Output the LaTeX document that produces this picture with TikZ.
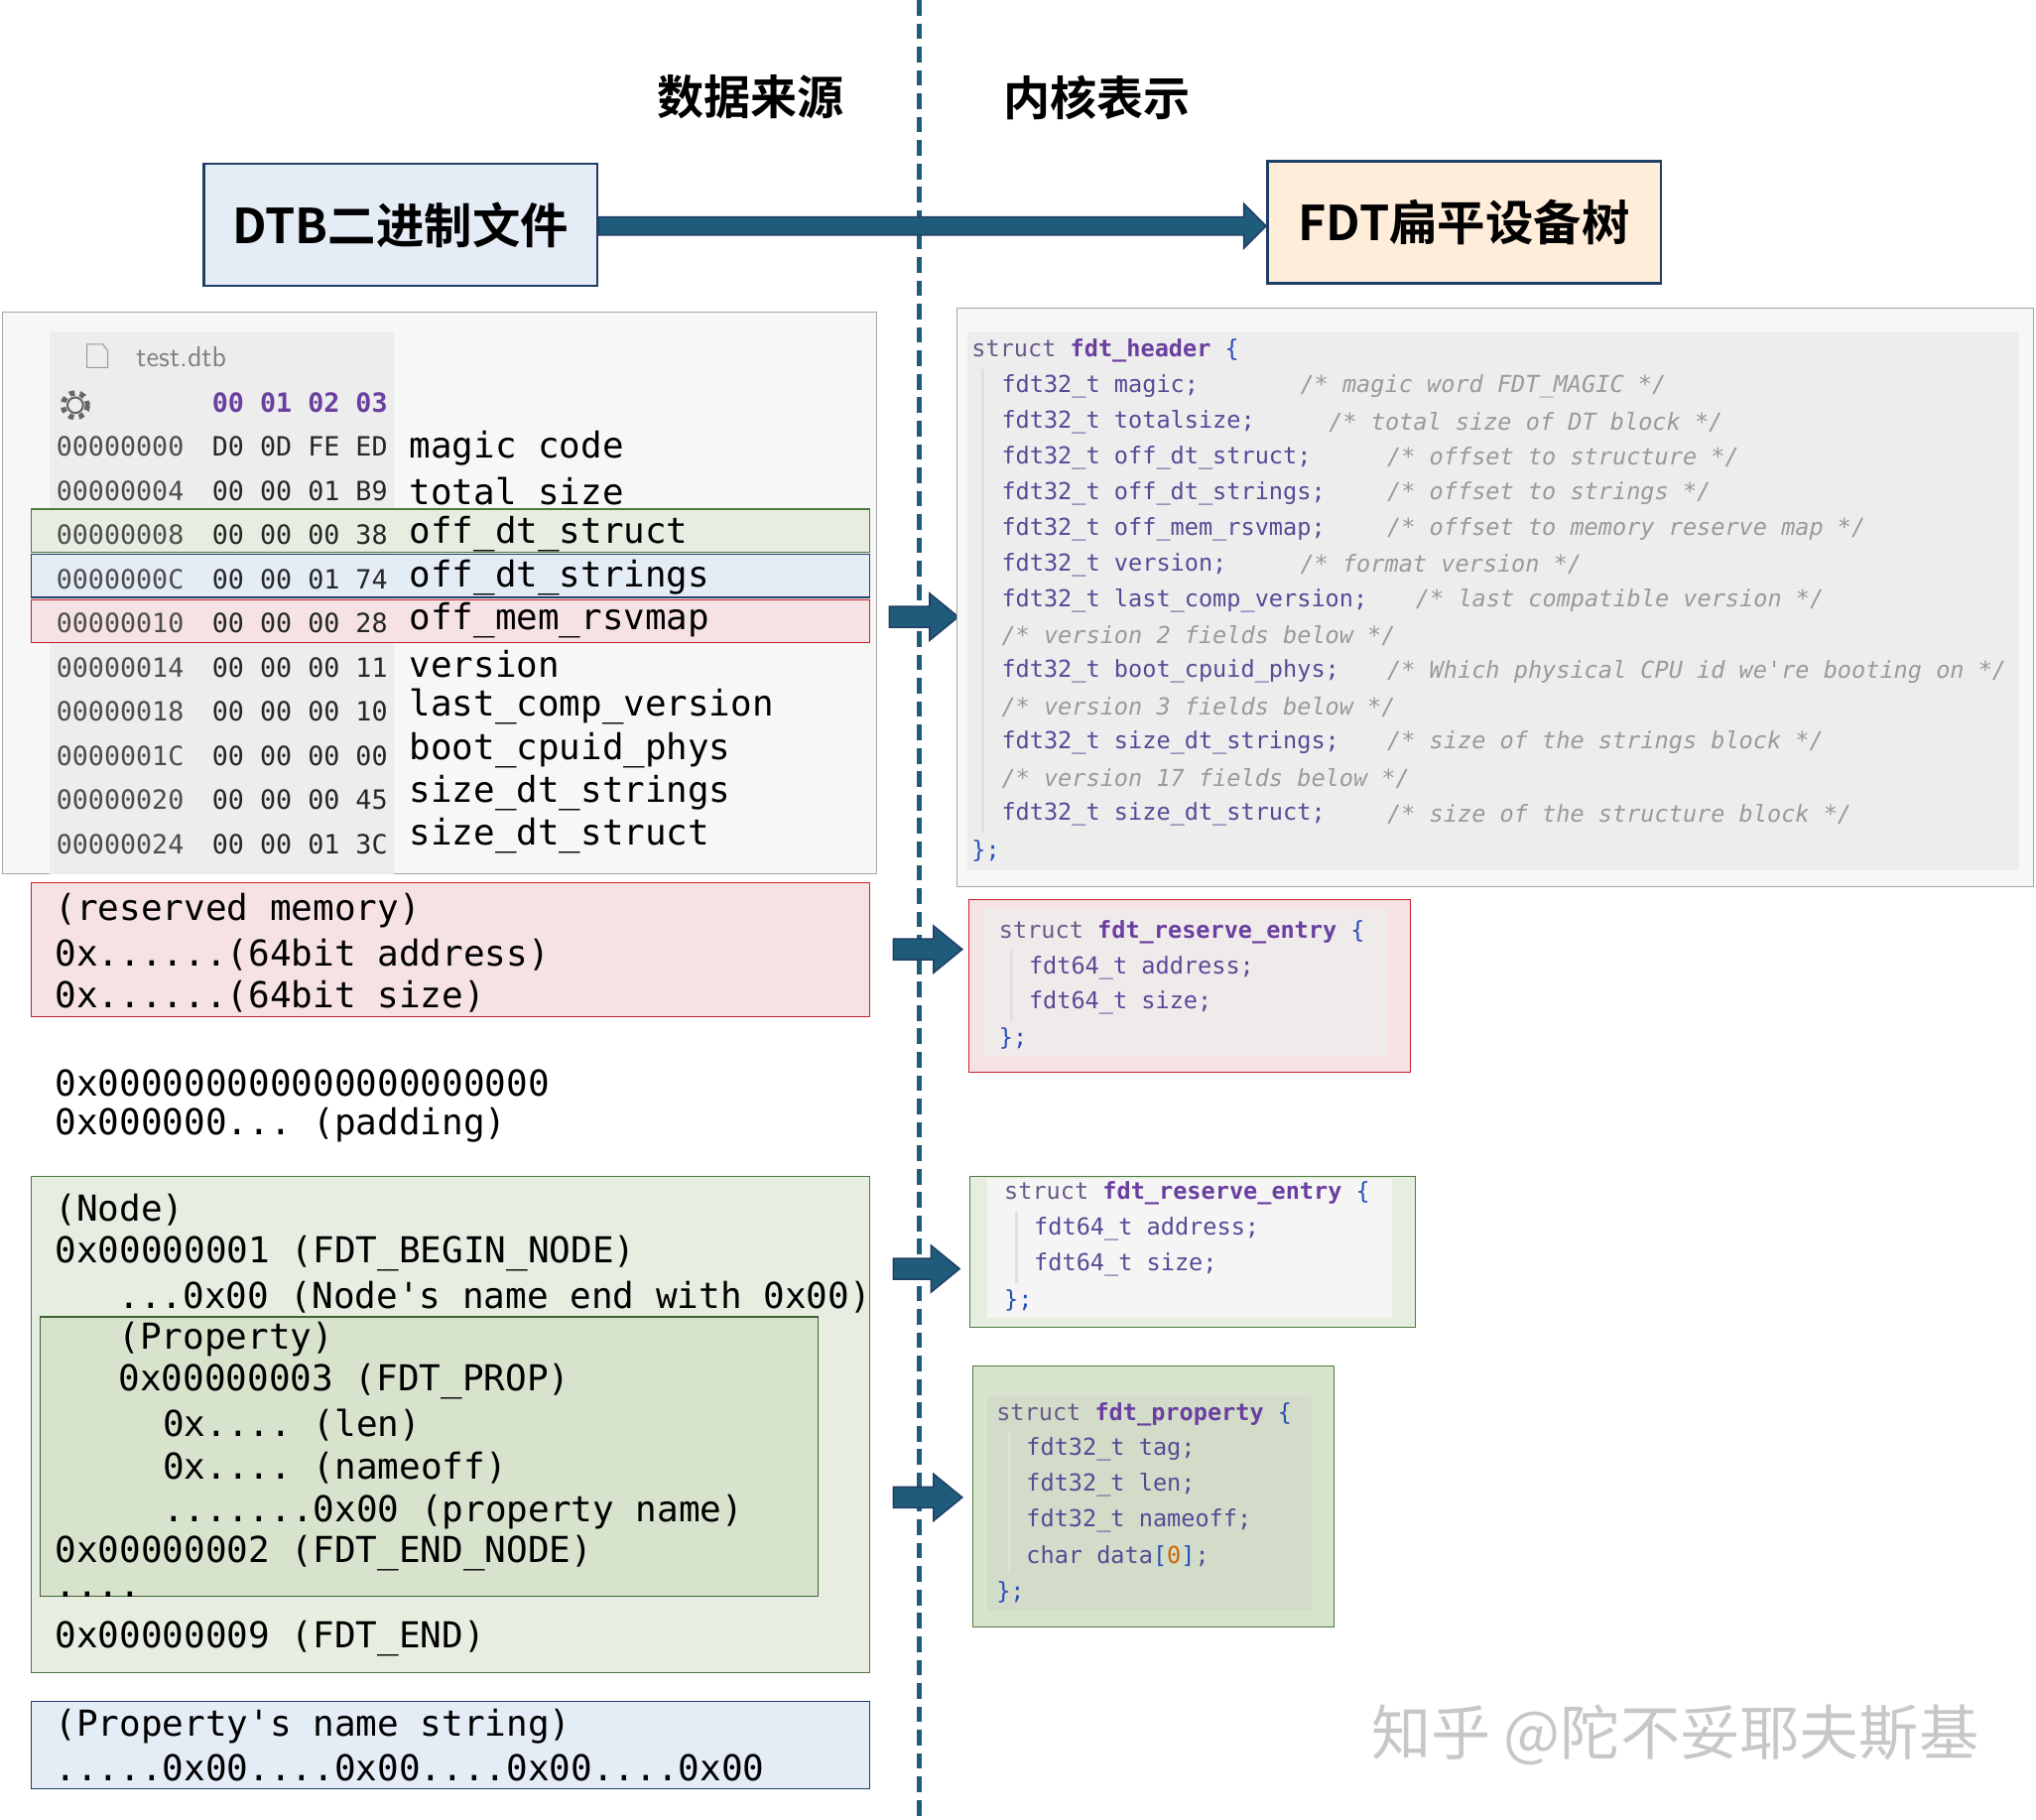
\documentclass[tikz,border=0pt]{standalone}
\usepackage{fontspec}
\setmonofont{DejaVu Sans Mono}
\newfontfamily\cjk{Noto Sans CJK SC}[BoldFont={Noto Sans CJK SC Bold}]
\usetikzlibrary{arrows.meta}
\definecolor{teal}{HTML}{1F5B7A}
\definecolor{navy}{HTML}{1F3F66}
\definecolor{redb}{HTML}{C8202A}
\definecolor{redf}{HTML}{F6E2E4}
\definecolor{greenb}{HTML}{4E7A3E}
\definecolor{greenf}{HTML}{E7EEE1}
\definecolor{greend}{HTML}{D8E3CE}
\definecolor{bluef}{HTML}{E4ECF6}
\definecolor{kw}{HTML}{6A5A8A}
\definecolor{nm}{HTML}{6A3FA0}
\definecolor{mem}{HTML}{574A96}
\definecolor{cm}{HTML}{9A9A9A}
\definecolor{br}{HTML}{2A4FB8}
\newcommand\kwa[1]{\textcolor{kw}{#1}}
\tikzset{x=0.5pt,y=-0.5pt,
 big/.style={font=\ttfamily\fontsize{13.75}{15}\selectfont,anchor=west,inner sep=0},
 lab/.style={font=\ttfamily\fontsize{13.7}{15}\selectfont,anchor=west,inner sep=0},
 hex/.style={font=\ttfamily\fontsize{10.2}{12}\selectfont,text=black!70,anchor=west,inner sep=0},
 code/.style={font=\ttfamily\fontsize{9}{10}\selectfont,text=mem,anchor=west,inner sep=0},
 bar/.style={draw=black!12,line width=1pt},
 blk/.style={fill=teal,draw=navy,line width=0.6pt},
 title/.style={font=\cjk\bfseries\fontsize{18}{20}\selectfont}}
\newcommand\blockarrow[3]{\filldraw[blk] (#1,#3-8)--(#2-22,#3-8)--(#2-22,#3-18)--(#2,#3)--(#2-22,#3+18)--(#2-22,#3+8)--(#1,#3+8)--cycle;}
\newcommand\cm[1]{\textcolor{cm}{\itshape #1}}
\begin{document}
\begin{tikzpicture}
\useasboundingbox (0,0) rectangle (1568,1401);
\draw[teal,line width=1.6pt,dash pattern=on 6pt off 3pt] (708,0)--(708,1398);
\node[title] (t1) at (578,75) {数据来源};
\node[title] (t2) at (845,75) {内核表示};
\node[draw=navy,line width=1pt,fill=bluef,minimum width=151.5pt,minimum height=47pt,anchor=north west,font=\cjk\bfseries\fontsize{18.5}{20}\selectfont] (dtb) at (156,125) {DTB二进制文件};
\node[draw=navy,line width=1pt,fill=orange!15!white,minimum width=151.5pt,minimum height=47pt,anchor=north west,font=\cjk\bfseries\fontsize{18.5}{20}\selectfont] (fdt) at (975,123) {FDT扁平设备树};
\draw[navy,line width=0.6pt,fill=teal] (dtb.east|-0,167)--(958,167)--(958,157)--(fdt.west|-0,174)--(958,191)--(958,181)--(dtb.east|-0,181)--cycle;
% hex panel
\draw[black!35,fill=black!3] (2,240) rectangle (675,673);
\fill[black!7] (38,255) rectangle (303,673);
\draw[black!40] (67,265)--(79,265)--(83,270)--(83,283)--(67,283)--cycle;
\node[anchor=west,font=\sffamily\fontsize{11}{12}\selectfont,text=black!50] (fn) at (98,275) {test.dtb};
\draw[black!60,line width=0.8pt] (58,312) circle (6);
\draw[black!60,line width=2pt,dash pattern=on 2pt off 2pt] (58,312) circle (9.5);
\node[hex,text=nm,font=\ttfamily\bfseries\fontsize{10.2}{12}\selectfont] at (163,310) {00 01 02 03};
\draw[greenb,fill=greenf] (24,392) rectangle (670,425);
\draw[navy,fill=bluef] (24,427) rectangle (670,460);
\draw[redb,fill=redf] (24,462) rectangle (670,495);
\foreach \o/\b/\l [count=\i from 0] in {00000000/D0 0D FE ED/magic code,00000004/00 00 01 B9/total size,00000008/00 00 00 38/off\_dt\_struct,0000000C/00 00 01 74/off\_dt\_strings,00000010/00 00 00 28/off\_mem\_rsvmap,00000014/00 00 00 11/version,00000018/00 00 00 10/last\_comp\_version,0000001C/00 00 00 00/boot\_cpuid\_phys,00000020/00 00 00 45/size\_dt\_strings,00000024/00 00 01 3C/size\_dt\_struct}{
 \node[hex] at (43,344+34*\i) {\o};
 \node[hex,text=black!85] at (163,344+34*\i) {\b};
 \node[lab] at (315,345+33.2*\i) {\l};
}
% reserved
\draw[redb,fill=redf] (24,680) rectangle (670,783);
\node[big] at (42,701) {(reserved memory)};
\node[big] at (42,735) {0x......(64bit address)};
\node[big] at (42,767) {0x......(64bit size)};
\node[big] at (42,834) {0x000000000000000000000};
\node[big] at (42,866) {0x000000... (padding)};
% node
\draw[greenb,fill=greenf] (24,906) rectangle (670,1288);
\draw[greenb!80!black,fill=greend] (31,1014) rectangle (630,1229);
\node[big] at (42,932) {(Node)};
\node[big] at (42,965) {0x00000001 (FDT\_BEGIN\_NODE)};
\node[big] at (91,999) {...0x00 (Node's name end with 0x00)};
\node[big] at (91,1031) {(Property)};
\node[big] at (91,1064) {0x00000003 (FDT\_PROP)};
\node[big] at (125,1097) {0x.... (len)};
\node[big] at (125,1130) {0x.... (nameoff)};
\node[big] at (125,1164) {.......0x00 (property name)};
\node[big] at (42,1196) {0x00000002 (FDT\_END\_NODE)};
\node[big] at (42,1228) {....};
\node[big] at (42,1262) {0x00000009 (FDT\_END)};
\draw[navy,fill=bluef] (24,1310) rectangle (670,1377);
\node[big] at (42,1329) {(Property's name string)};
\node[big] at (42,1361) {.....0x00....0x00....0x00....0x00};
% arrows
\blockarrow{685}{738}{475}
\blockarrow{688}{741}{731}
\blockarrow{688}{739}{977}
\blockarrow{688}{741}{1153}
% header code
\draw[black!35,fill=black!3] (737,237) rectangle (1566,683);
\fill[black!7] (745,255) rectangle (1555,670);
\draw[bar] (757,284)--(757,640);
\node[code] at (748,270) {\kwa{struct} \textcolor{nm}{\bfseries fdt\_header} \textcolor{br}{\{}};
\foreach \t/\c/\x [count=\i] in {fdt32\_t magic;/\cm{/* magic word FDT\_MAGIC */}/1001,
fdt32\_t totalsize;/\cm{/* total size of DT block */}/1023,
fdt32\_t off\_dt\_struct;/\cm{/* offset to structure */}/1068,
fdt32\_t off\_dt\_strings;/\cm{/* offset to strings */}/1068,
fdt32\_t off\_mem\_rsvmap;/\cm{/* offset to memory reserve map */}/1068,
fdt32\_t version;/\cm{/* format version */}/1001,
fdt32\_t last\_comp\_version;/\cm{/* last compatible version */}/1090,
\cm{/* version 2 fields below */}//0,
fdt32\_t boot\_cpuid\_phys;/\cm{/* Which physical CPU id we're booting on */}/1068,
\cm{/* version 3 fields below */}//0,
fdt32\_t size\_dt\_strings;/\cm{/* size of the strings block */}/1068,
\cm{/* version 17 fields below */}//0,
fdt32\_t size\_dt\_struct;/\cm{/* size of the structure block */}/1068}{
 \node[code] at (771,270+27.45*\i) {\t};
 \ifnum\x>0 \node[code] at (\x,270+27.45*\i) {\c};\fi
}
\node[code,text=br] at (748,655) {\};};
% reserve entry 1
\draw[redb,fill=redf] (746,693) rectangle (1086,826);
\fill[red!25!black!8] (757,700) rectangle (1068,813);
\draw[bar] (779,732)--(779,786);
\node[code] at (769,718) {\kwa{struct} \textcolor{nm}{\bfseries fdt\_reserve\_entry} \textcolor{br}{\{}};
\node[code] at (792,745) {fdt64\_t address;};
\node[code] at (792,772) {fdt64\_t size;};
\node[code,text=br] at (769,800) {\};};
% reserve entry 2
\draw[greenb,fill=greenf] (747,906) rectangle (1090,1022);
\fill[black!4] (760,908) rectangle (1072,1015);
\draw[bar] (783,933)--(783,988);
\node[code] at (773,919) {\kwa{struct} \textcolor{nm}{\bfseries fdt\_reserve\_entry} \textcolor{br}{\{}};
\node[code] at (796,946) {fdt64\_t address;};
\node[code] at (796,974) {fdt64\_t size;};
\node[code,text=br] at (773,1001) {\};};
% property
\draw[greenb,fill=greend] (749,1052) rectangle (1027,1253);
\fill[black!3!greend] (760,1075) rectangle (1010,1240);
\draw[bar] (777,1103)--(777,1212);
\node[code] at (767,1089) {\kwa{struct} \textcolor{nm}{\bfseries fdt\_property} \textcolor{br}{\{}};
\node[code] at (790,1116) {fdt32\_t tag;};
\node[code] at (790,1143) {fdt32\_t len;};
\node[code] at (790,1171) {fdt32\_t nameoff;};
\node[code] at (790,1198) {char data\textcolor{br}{[}\textcolor{orange!80!black}{0}\textcolor{br}{]};};
\node[code,text=br] at (767,1226) {\};};
\node[font=\cjk\fontsize{23}{25}\selectfont,text=black!22] (wm) at (1290,1336) {知乎 @陀不妥耶夫斯基};
\end{tikzpicture}
\end{document}
